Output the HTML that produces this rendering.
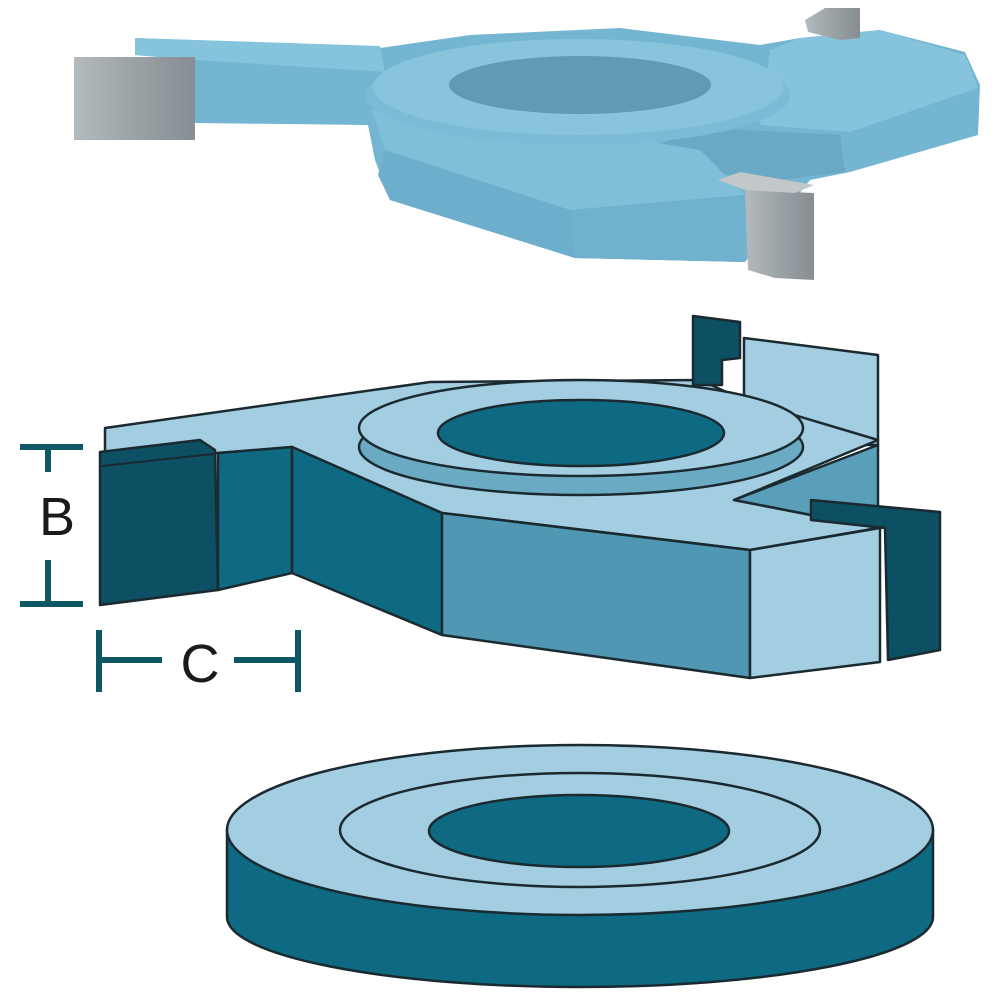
<!DOCTYPE html>
<html><head><meta charset="utf-8"><style>
html,body{margin:0;padding:0;background:#fff;}
svg{display:block;}
</style></head><body>
<svg width="1000" height="1000" viewBox="0 0 1000 1000" xmlns="http://www.w3.org/2000/svg">
<defs>
<linearGradient id="ins" x1="0" x2="1" y1="0" y2="0">
<stop offset="0" stop-color="#b4babd"/><stop offset="0.5" stop-color="#9aa2a6"/><stop offset="1" stop-color="#868e93"/>
</linearGradient>
</defs>
<!-- TOP CUTTER -->
<g stroke="none">
  <!-- silhouette base -->
  <polygon fill="#74b5d1" points="135,38 380,48 470,35 620,28 760,45 800,38 880,30 965,52 980,85 978,135 850,172 810,180 745,262 575,258 390,200 375,160 368,125 195,123 195,60 135,55"/>
  <!-- left arm top strip -->
  <polygon fill="#86c3dc" points="135,38 380,46 385,72 195,60 135,55"/>
  <!-- right arm top -->
  <polygon fill="#86c3dc" points="770,50 800,38 880,30 965,55 978,88 850,132 760,125"/>
  <!-- notch -->
  <polygon fill="#6aa9c5" points="632,153 705,128 840,135 845,172 760,182"/>
  <!-- front body top band -->
  <polygon fill="#80bfd8" points="372,110 640,140 700,150 745,195 570,210 385,150"/>
  <!-- front body side faces -->
  <polygon fill="#6caecb" points="385,150 570,210 745,195 745,262 575,258 390,200 378,175"/>
  <polygon fill="#70b2ce" points="570,210 745,195 745,262 575,258"/>
  <!-- ring -->
  <ellipse cx="578" cy="95" rx="212" ry="50" fill="#7bbbd5"/>
  <ellipse cx="578" cy="87" rx="205" ry="48" fill="#88c5dd"/>
  <ellipse cx="580" cy="85" rx="131" ry="29" fill="#5f9cb3"/>
  <!-- inserts -->
  <polygon fill="url(#ins)" points="74,57 195,57 195,140 74,140"/>
  <polygon fill="url(#ins)" points="745,190 814,193 814,280 775,278 748,270"/>
  <polygon fill="#c2c7ca" points="718,180 740,172 814,185 795,193 745,190"/>
  <polygon fill="url(#ins)" points="805,20 825,8 860,8 860,38 840,40 808,32"/>
</g>
<!-- MIDDLE CUTTER -->
<g stroke="#1a2a30" stroke-width="2.5" stroke-linejoin="round">
  <polygon fill="#a3cde0" points="744,338 878,355 878,445 744,445"/>
  <polygon fill="#a3cde0" points="105,428 430,382 700,380 744,400 878,440 734,500 878,528 750,550 442,513 292,447 218,453 105,460"/>
  <polygon fill="#5a9fb9" points="734,500 878,445 878,528"/>
  <polygon fill="#0e6a82" points="218,453 292,447 292,573 218,590"/>
  <polygon fill="#0e6a82" points="292,447 442,513 442,635 292,573"/>
  <polygon fill="#4f97b2" points="442,513 750,550 750,678 442,635"/>
  <polygon fill="#a3cde0" points="750,550 880,528 880,662 750,678"/>
  <ellipse cx="581" cy="447" rx="222" ry="48" fill="#6aaac2"/>
  <ellipse cx="581" cy="428" rx="222" ry="48" fill="#a3cde0"/>
  <ellipse cx="581" cy="433" rx="143" ry="33" fill="#0e6a82"/>
  <polygon fill="#0d4f63" points="100,452 200,440 215,450 218,590 100,605"/>
  <line x1="102" y1="466" x2="213" y2="454" stroke-width="2"/>
  <polygon fill="#0d4f63" points="811,500 940,512 940,650 888,660 885,528 811,520"/>
  <polygon fill="#0d4f63" points="693,316 740,322 740,358 722,360 722,385 693,385"/>
</g>
<g stroke="#0e5866" stroke-width="6" fill="none">
  <line x1="20" y1="447" x2="83" y2="447"/>
  <line x1="48" y1="447" x2="48" y2="472"/>
  <line x1="48" y1="560" x2="48" y2="604"/>
  <line x1="20" y1="604" x2="83" y2="604"/>
  <line x1="99" y1="630" x2="99" y2="692"/>
  <line x1="99" y1="660" x2="162" y2="660"/>
  <line x1="234" y1="660" x2="298" y2="660"/>
  <line x1="298" y1="630" x2="298" y2="692"/>
</g>
<text x="57" y="535" font-family="Liberation Sans, sans-serif" font-size="54" text-anchor="middle" fill="#1a1a1a">B</text>
<text x="200" y="682" font-family="Liberation Sans, sans-serif" font-size="54" text-anchor="middle" fill="#1a1a1a">C</text>
<!-- WASHER -->
<g stroke="#1a2a30" stroke-width="2.5">
  <path fill="#0e6a82" d="M227,830 L227,917 A353,70 0 0 0 933,917 L933,830 Z"/>
  <ellipse cx="580" cy="830" rx="353" ry="85" fill="#a3cde0"/>
  <ellipse cx="580" cy="830" rx="240" ry="57" fill="#a3cde0"/>
  <ellipse cx="579" cy="831" rx="150" ry="36" fill="#0e6a82"/>
</g>
</svg>
</body></html>
